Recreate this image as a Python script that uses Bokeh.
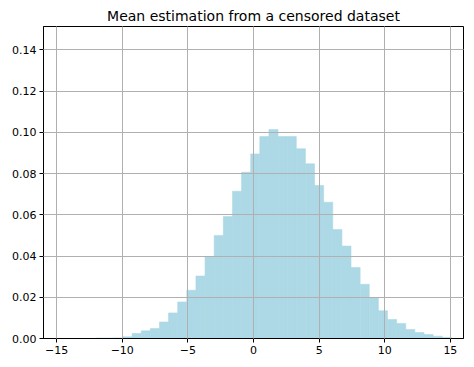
from bokeh.plotting import figure
from bokeh.models import Range1d, FixedTicker, PrintfTickFormatter
from bokeh.embed import file_html
from bokeh.resources import INLINE

# Histogram bins (left edges) and density heights
bin_start = -12.03
bin_width = 0.695
densities = [0.0002, 0.0002, 0.0003, 0.0008, 0.0024, 0.0037, 0.0048, 0.0080,
             0.0124, 0.0177, 0.0234, 0.0303, 0.0398, 0.0500, 0.0592, 0.0714,
             0.0806, 0.0895, 0.0979, 0.1013, 0.0979, 0.0979, 0.0920, 0.0847,
             0.0742, 0.0661, 0.0528, 0.0448, 0.0344, 0.0263, 0.0197, 0.0134,
             0.0092, 0.0073, 0.0044, 0.0029, 0.0019, 0.0011, 0.0005]
left_edges = [bin_start + i * bin_width for i in range(len(densities))]
right_edges = [e + bin_width for e in left_edges]

x_ticks = [-15, -10, -5, 0, 5, 10, 15]
y_ticks = [0.0, 0.02, 0.04, 0.06, 0.08, 0.10, 0.12, 0.14]
title_text = "Mean estimation from a censored dataset"

p = figure(width=474, height=367, output_backend="svg", toolbar_location=None,
           x_range=Range1d(-16, 16), y_range=Range1d(0, 0.1513),
           min_border_left=43, min_border_right=11, min_border_top=26, min_border_bottom=29)

p.quad(left=left_edges, right=right_edges, bottom=0, top=densities,
       fill_color="#add8e6", line_color="#add8e6", line_width=0.6)

p.title.text = title_text
p.title.align = "center"
p.title.text_font = "DejaVu Sans"
p.title.text_font_size = "14px"
p.title.text_font_style = "normal"
p.title.text_color = "black"
p.title.standoff = 5
p.title.offset = 0

for ax in (p.xaxis[0], p.yaxis[0]):
    ax.axis_line_color = "black"
    ax.major_tick_line_color = "black"
    ax.major_tick_out = 4
    ax.major_tick_in = 0
    ax.minor_tick_line_color = None
    ax.major_label_text_font = "DejaVu Sans"
    ax.major_label_text_font_size = "11px"
    ax.major_label_text_color = "black"
    ax.major_label_standoff = 3

p.xaxis.ticker = FixedTicker(ticks=x_ticks)
p.xaxis.major_label_overrides = {t: str(t).replace("-", "\u2212") for t in x_ticks}
p.yaxis.ticker = FixedTicker(ticks=y_ticks)
p.yaxis.formatter = PrintfTickFormatter(format="%.2f")

for g in (p.xgrid[0], p.ygrid[0]):
    g.grid_line_color = "#b0b0b0"
    g.grid_line_width = 1
    g.level = "annotation"
p.xgrid.ticker = FixedTicker(ticks=x_ticks)
p.ygrid.ticker = FixedTicker(ticks=y_ticks)

p.outline_line_color = "black"
p.outline_line_alpha = 1
p.outline_line_width = 1
p.background_fill_color = "white"
p.border_fill_color = "white"

open("out.html", "w").write(file_html(p, INLINE))
